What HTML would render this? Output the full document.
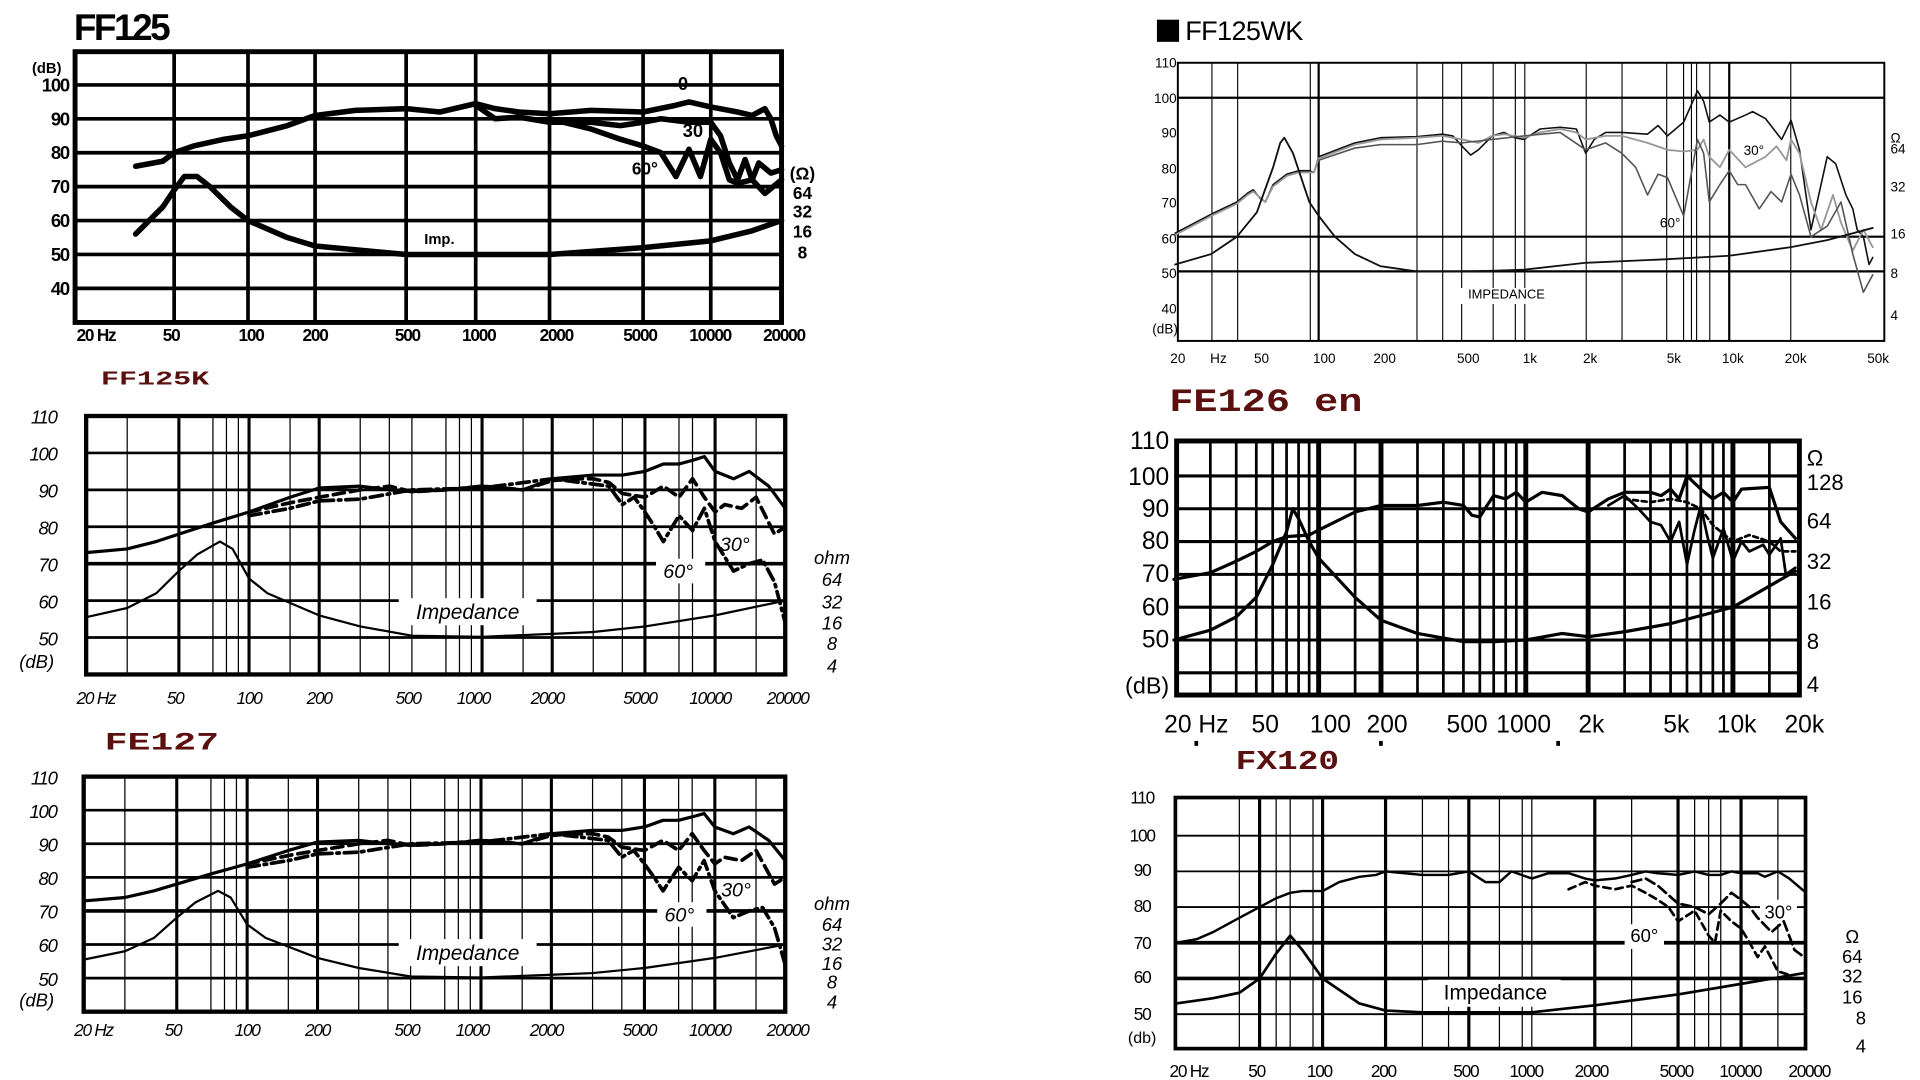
<!DOCTYPE html>
<html><head><meta charset="utf-8"><style>html,body{margin:0;padding:0;background:#fff;width:1920px;height:1080px;overflow:hidden}svg{display:block}</style></head>
<body>
<svg id="s" xmlns="http://www.w3.org/2000/svg" width="1920" height="1080" viewBox="0 0 1560 877.5" preserveAspectRatio="none"></svg>
<script>
let o='';
const lg=Math.log10;
function PL(a){return f=>{for(let i=0;i<a.length-1;i++){const[f0,x0]=a[i],[f1,x1]=a[i+1];if(f<=f1||i==a.length-2){const t=(lg(f)-lg(f0))/(lg(f1)-lg(f0));return x0+t*(x1-x0);}}}}
function lin(d0,y0,d1,y1){return d=>y0+(d-d0)*(y1-y0)/(d1-d0);}
function P(pts,fx,fy,st){o+=`<polyline points="${pts.map(p=>fx(p[0]).toFixed(1)+','+fy(p[1]).toFixed(1)).join(' ')}" fill="none" stroke-linejoin="round" stroke-linecap="round" ${st}/>`;}
function Ln(x1,y1,x2,y2,w,c){o+=`<line x1="${x1}" y1="${y1}" x2="${x2}" y2="${y2}" stroke="${c||'#000'}" stroke-width="${w}"/>`;}
function R(x,y,w,h,sw,fill){o+=`<rect x="${x}" y="${y}" width="${w}" height="${h}" fill="${fill||'none'}" stroke="${sw?'#000':'none'}" stroke-width="${sw||0}"/>`;}
function T(x,y,s,sz,anc,ex){o+=`<text x="${x}" y="${(y+sz*0.35).toFixed(1)}" font-size="${sz}" text-anchor="${anc||'middle'}" ${ex||''}>${s}</text>`;}
const SANS='font-family="Liberation Sans, sans-serif"';
const COUR='font-family="Liberation Mono, monospace" font-weight="bold" fill="#5b0f0f"';

/* ===== Chart A FF125 ===== */
{
const fx=PL([[20,61],[50,141.5],[100,201.5],[200,256],[500,330],[1000,386.5],[2000,446.5],[5000,522.5],[10000,577.5],[20000,635]]);
const fy=lin(100,69,40,234.3);
[50,100,200,500,1000,2000,5000,10000].forEach(f=>Ln(fx(f),42,fx(f),262,3));
[100,90,80,70,60,50,40].forEach(d=>Ln(61,fy(d),635,fy(d),3));
R(61,42,574,220,4);
const st='stroke="#000" stroke-width="4.5"';
P([[35,76],[45,77.5],[50,80],[60,82],[80,84],[100,85],[150,88],[200,91],[300,92.5],[500,93],[700,92],[1000,94.5],[1200,93],[1500,92],[2000,91.5],[3000,92.5],[5000,92],[7000,94],[8000,95],[10000,93.5],[13000,92],[15000,91],[17000,93],[18000,90],[19000,85],[20000,82]],fx,fy,st);
P([[1000,94],[1200,90],[1500,90.5],[2000,89],[3000,89],[4000,88],[5000,89],[6000,90],[8000,89],[10000,89],[11000,85],[12000,77],[13000,72],[14000,78],[15000,72],[16000,77],[18000,74],[20000,75]],fx,fy,st);
P([[2000,90],[3000,87],[4000,84],[5000,82],[6000,80],[7000,73],[8000,81],[9000,73],[10000,84],[11000,80],[12000,72],[13000,71],[15000,72],[17000,68],[20000,72]],fx,fy,st);
P([[35,56],[45,64],[50,69],[55,73],[62,73],[70,70],[85,64],[100,60],[150,55],[200,52.5],[500,50],[1000,50],[2000,50],[5000,52],[10000,54],[15000,57],[20000,60]],fx,fy,st);
const B='font-family="Liberation Sans Narrow, Liberation Sans, sans-serif" font-weight="bold"';
T(60,22,'FF125',30,'start',B+' letter-spacing="-2"');
T(38,55,'(dB)',12,'middle',B);
[100,90,80,70,60,50,40].forEach(d=>T(56,fy(d),d,15,'end',B+' letter-spacing="-1"'));
[['20 Hz',78],['50',139],['100',204],['200',256],['500',331],['1000',389],['2000',452],['5000',520],['10000',577],['20000',637]].forEach(a=>T(a[1],272,a[0],14,'middle',B+' letter-spacing="-1"'));
[['(Ω)',141],['64',157],['32',172],['16',188],['8',205]].forEach(a=>T(652,a[1],a[0],14,'middle',B));
T(555,68,'0',15,'middle',B);T(563,106,'30',15,'middle',B);T(524,137,'60°',14,'middle',B);T(357,194,'Imp.',12,'middle',B);
}

/* ===== Chart B & C ===== */
function BC(x0,x1,y0,y1,title,tx,ty,tl,tsz,lab){
const fx=f=>x0+lg(f/20)*((x1-x0)/3);
const fy=lin(110,y0,40,y1);
const thin=[30,70,80,90,150,300,400,500,700,800,900,1500,3000,4000,7000,8000,15000],thick=[50,100,200,1000,2000,5000,10000];
thin.forEach(f=>Ln(fx(f),y0,fx(f),y1,1));
thick.forEach(f=>Ln(fx(f),y0,fx(f),y1,2.5));
[100,90,80,70,60,50].forEach(d=>Ln(x0,fy(d),x1,fy(d),d==70?3:2.2));
R(x0,y0,x1-x0,y1-y0,3.5);
// impedance label bg
R(lab.ix-56,lab.iy-11,112,22,0,'#fff');
R(lab.x60-18,lab.y60-10,40,20,0,'#fff');
const s='stroke="#000" stroke-width="2.6"';
P([[20,73],[30,74],[40,76],[50,78],[70,81],[100,84],[150,88],[200,90.5],[300,91],[400,90],[500,89.5],[700,90],[1000,91],[1200,90.5],[1500,90],[2000,93],[3000,94],[4000,94],[5000,95],[6000,97],[7000,97],[8000,98],[9000,99],[10000,95],[12000,93],[14000,95],[17000,91],[20000,85]],fx,fy,s);
P([[100,84],[150,86.5],[200,88],[300,90],[400,91],[500,89.5],[700,90],[1000,91],[1500,90],[2000,92.5],[2500,93],[3000,93],[3500,92],[4000,89],[5000,88],[6000,91],[7000,88],[8000,93],[9000,88],[10000,84],[11000,86],[13000,85],[15000,88],[18000,78],[20000,80]],fx,fy,'stroke="#000" stroke-width="3" stroke-dasharray="9,5"');
P([[100,83],[150,85],[200,87],[300,87.5],[500,90],[1000,90.5],[2000,93],[3500,91],[4000,86],[4500,88],[5000,84],[5500,80],[6000,76],[7000,83],[8000,79],[9000,85],[10000,76],[12000,68],[14000,70],[16000,71],[18000,65],[20000,54]],fx,fy,'stroke="#000" stroke-width="3" stroke-dasharray="10,4,2,4"');
P([[20,55.5],[30,58],[40,62],[50,68],[60,72.5],[75,76],[85,74],[100,66],[120,62],[200,56],[300,53],[500,50.5],[1000,50.2],[2000,51],[3000,51.5],[5000,53],[10000,56],[20000,60]],fx,fy,'stroke="#000" stroke-width="1.8"');
const I='font-family="Liberation Sans, sans-serif" font-style="italic"';
T(tx,ty,title,tsz,'start',COUR+` textLength="${tl}" lengthAdjust="spacingAndGlyphs"`);
[110,100,90,80,70,60,50].forEach(d=>T(46,fy(d)+1,d,15,'end',I+' letter-spacing="-1"'));
T(44,fy(43.5),'(dB)',15,'end',I);
[['20 Hz',x0+8],['50',fx(50)-3],['100',fx(100)],['200',fx(200)],['500',fx(500)-3],['1000',fx(1000)-7],['2000',fx(2000)-4],['5000',fx(5000)-4],['10000',fx(10000)-4],['20000',x1+2]].forEach(a=>T(a[1],lab.by,a[0],14,'middle',I+' letter-spacing="-1"'));
lab.r.forEach(a=>T(676,a[1],a[0],15,'middle',I));
T(lab.ix,lab.iy,'Impedance',17,'middle',I);
T(lab.x30,lab.y30,'30°',16,'middle',I);T(lab.x60,lab.y60,'60°',16,'middle',I);
}
BC(70,638,338,548,'FF125K',82,307,88,16,{by:567,ix:380,iy:497,x30:597,y30:442,x60:551,y60:464,r:[['ohm',453],['64',471],['32',489],['16',506],['8',523],['4',541]]});
BC(68,638,631,822,'FE127',85,602,93,20,{by:837,ix:380,iy:774,x30:598,y30:723,x60:552,y60:743,r:[['ohm',734],['64',751],['32',767],['16',783],['8',798],['4',814]]});

/* ===== Chart D FF125WK ===== */
{
const fx=f=>1071.4+lg(f/100)*166.8, fy=lin(100,79.4,60,192.3);
[984.7,1005.6,1064.6,1151.3,1172.2,1187.6,1213.2,1231.2,1238.9,1288.8,1317.9,1354.2,1367.9,1374.3,1378.5,1389.2,1455].forEach(x=>Ln(x,51,x,277,0.9));
[1071.4,1405].forEach(x=>Ln(x,51,x,277,1.8));
[100,60,50].forEach(d=>Ln(957,fy(d),1531,fy(d),1.8));
R(957,51,574,226,1.6);
o+=`<rect x="1187" y="234" width="73" height="13" fill="#fff"/>`;
P([[20,61],[25,64],[30,66.5],[40,70],[45,72.5],[48,73.5],[52,71],[55,70],[60,75],[70,78],[80,79],[90,79],[95,78.5],[100,83],[150,87],[200,88.5],[300,88.8],[400,89.5],[450,89],[500,86],[550,83.5],[600,85],[700,89],[800,90],[900,88.5],[1000,88],[1200,91],[1500,91.5],[1800,91],[2000,84],[2200,88],[2500,90],[3000,90],[4000,89.5],[4500,92],[5000,89],[6000,93],[7000,102],[7500,99],[8000,93],[9000,95],[10000,93],[12000,95],[13000,96],[15000,94],[18000,88],[20000,93.5],[22000,85],[25000,62],[28000,75],[30000,83],[33000,81],[37000,72],[40000,68],[42000,62],[45000,60],[48000,52],[50000,54]],fx,fy,'stroke="#111" stroke-width="1.3"');
P([[20,60.5],[25,63.5],[30,66],[40,69.5],[45,72],[48,73],[55,70],[60,74.5],[70,77.5],[80,78.5],[95,78.5],[100,82.5],[150,86.5],[200,88],[300,88.5],[400,89],[500,88],[600,87],[700,89],[800,89.5],[1000,88.5],[1200,90],[1500,91],[1800,90],[2000,88],[2500,89],[3000,89],[4000,87],[5000,85],[6000,84.5],[7000,85],[7500,88],[8000,83],[9000,80],[10000,85],[12000,80],[15000,83],[17000,86],[19000,82],[20000,88],[22000,84],[25000,70],[28000,62],[32000,72],[35000,64],[40000,56],[45000,62],[50000,57]],fx,fy,'stroke="#999" stroke-width="1.5"');
P([[100,82],[150,85.5],[200,86.5],[300,86.5],[400,87.5],[500,87],[700,88],[1000,89],[1500,90],[2000,85],[2500,87],[3000,84],[3500,80],[4000,72],[4500,78],[5000,77],[6000,66],[7000,88],[7500,84],[8000,70],[9000,75],[10000,79],[11000,75],[12000,75],[14000,68],[16000,73],[18000,70],[20000,78],[22000,72],[25000,60],[30000,63],[35000,70],[40000,55],[45000,44],[50000,49]],fx,fy,'stroke="#555" stroke-width="1.3"');
P([[20,52],[30,55],[40,60],[50,67],[60,80],[65,87],[68,88.5],[75,84],[90,70],[100,66],[120,60],[150,55],[200,51.5],[300,50],[500,50],[700,50.2],[1000,50.5],[2000,52.5],[5000,53.5],[10000,54.5],[20000,57],[30000,59],[50000,62.5]],fx,fy,'stroke="#111" stroke-width="1.5"');
o+=`<rect x="940" y="16" width="18" height="18" fill="#000"/>`;
T(963,25,'FF125WK',22,'start',SANS+' letter-spacing="-0.5"');
[[110,51],[100,80],[90,108],[80,137],[70,165],[60,194],[50,222],[40,251]].forEach(a=>T(956,a[1],a[0],11,'end',SANS));
T(957,267,'(dB)',11,'end',SANS);
[['20',957],['Hz',990],['50',1025],['100',1076],['200',1125],['500',1193],['1k',1243],['2k',1292],['5k',1360],['10k',1408],['20k',1459],['50k',1526]].forEach(a=>T(a[1],291,a[0],11,'middle',SANS));
[['Ω',112],['64',121],['32',152],['16',190],['8',222],['4',256]].forEach(a=>T(1536,a[1],a[0],11,'start',SANS));
T(1224,239,'IMPEDANCE',10.5,'middle',SANS);
T(1425,122,'30°',11,'middle',SANS);T(1357,181,'60°',11,'middle',SANS);
}

/* ===== Chart E FE126 en ===== */
{
const fx=f=>1071.4+lg(f/100)*168.3, fy=lin(100,386.7,50,520);
[30,40,50,60,70,80,90,150,300,400,500,600,700,800,900,3000,4000,5000,6000,7000,8000,9000,15000].forEach(f=>Ln(fx(f),358,fx(f),565,2.2));
[100,200,1000,2000,10000].forEach(f=>Ln(fx(f),358,fx(f),565,4));
[100,90,80,70,60,50,40].forEach(d=>Ln(956,fy(d),1462,fy(d),2.5));
R(956,358.3,506,206.4,4);
P([[20,68.5],[30,70.5],[40,74],[50,77],[60,80],[70,81.5],[90,82],[100,83.5],[150,89],[200,91],[300,91],[400,92],[500,91],[550,88],[600,87.5],[650,91],[700,94],[800,93],[900,95],[1000,92],[1200,95],[1500,94],[1800,90],[2000,89],[2500,93],[3000,95],[4000,95],[4500,94],[5000,96],[5500,93],[6000,100],[7000,96],[8000,93],[9000,95],[10000,92],[11000,96],[15000,96.5],[17000,86],[20000,81]],fx,fy,'stroke="#000" stroke-width="2.6"');
P([[2500,91],[3000,94],[3500,90],[4000,86],[4500,85],[5000,80],[5500,86],[6000,73],[6500,83],[7000,91],[7500,82],[8000,75],[9000,84],[10000,74],[11000,80],[12000,77],[14000,79],[15000,76],[17000,81],[18000,70],[20000,72]],fx,fy,'stroke="#000" stroke-width="2.2"');
P([[3000,93],[4000,92],[5000,93],[6000,92],[7000,90],[8000,85],[10000,80],[12000,82],[15000,80],[17000,77],[20000,77]],fx,fy,'stroke="#000" stroke-width="2.2" stroke-dasharray="4,3"');
P([[20,50],[30,53],[40,57],[50,63],[60,73],[70,83],[75,90],[80,87],[90,80],[100,75],[150,63],[200,56],[300,52],[500,49.5],[700,49.5],[1000,50],[1500,52],[2000,51],[3000,52.5],[5000,55],[10000,60],[20000,71]],fx,fy,'stroke="#000" stroke-width="2.6"');
T(950,325,'FE126 en',26,'start',COUR+' textLength="157" lengthAdjust="spacingAndGlyphs"');
[[110,358],[100,387],[90,413],[80,439],[70,466],[60,493],[50,519]].forEach(a=>T(950,a[1],a[0],20,'end',SANS));
T(950,557,'(dB)',19,'end',SANS);
[['Ω',372],['128',392],['64',423],['32',456],['16',489],['8',521],['4',556]].forEach(a=>T(1468,a[1],a[0],18,'start',SANS));
[['20 Hz',972],['50',1028],['100',1081],['200',1127],['500',1192],['1000',1238],['2k',1293],['5k',1362],['10k',1411],['20k',1466]].forEach(a=>T(a[1],588,a[0],20,'middle',SANS));
[972,1122,1266].forEach(x=>R(x-1.5,602,3,4,0,'#000'));
}

/* ===== Chart F FX120 ===== */
{
const fx=f=>1074.6+lg(f/100)*170, fy=lin(100,679,50,824);
[40,60,70,90,300,400,700,900,1000,3000,6000,7000,8000,15000].forEach(f=>Ln(fx(f),648,fx(f),852,1));
[50,100,200,500,2000,5000,10000].forEach(f=>Ln(fx(f),648,fx(f),852,2.6));
[100,90,80,50].forEach(d=>Ln(955,fy(d),1467,fy(d),1.5));
[70,60].forEach(d=>Ln(955,fy(d),1467,fy(d),3));
R(955,648,512,204,3);
R(1160,796,108,22,0,'#fff');
R(1320,751,32,20,0,'#fff');R(1430,731,30,20,0,'#fff');
P([[20,70],[25,71],[30,73],[40,77],[50,80],[60,82.5],[70,84],[80,84.5],[100,84.5],[120,87],[150,88.5],[180,89],[200,90],[300,89],[400,89],[500,90],[600,87],[700,87],[800,90],[1000,88],[1200,89.5],[1500,89.5],[1800,88],[2000,87.5],[2500,88],[3000,89],[3500,90],[4000,89.5],[5000,89],[6000,90],[7000,89],[8000,89],[9000,90],[10000,89.5],[12000,89.5],[13000,88.5],[15000,90],[17000,88],[20000,84.5]],fx,fy,'stroke="#000" stroke-width="2"');
P([[1500,85],[1800,87],[2000,86],[2500,85],[3000,86],[3500,84],[4000,82],[4500,80],[5000,76],[6000,79],[7000,72],[7500,70],[8000,79],[9000,76],[10000,74],[11000,70],[12000,66],[13000,69],[15000,62],[17000,61]],fx,fy,'stroke="#000" stroke-width="2.2" stroke-dasharray="6,4"');
P([[3000,87],[3500,88],[4000,86],[5000,81],[6000,80],[7000,78],[8000,81],[9000,84],[10000,82],[11000,80],[12000,77],[14000,73],[16000,76],[18000,68],[20000,66]],fx,fy,'stroke="#000" stroke-width="2.2" stroke-dasharray="8,4"');
P([[20,53],[30,54.5],[40,56],[50,60],[60,67],[70,72],[80,68],[100,60],[150,53],[200,51],[300,50.5],[500,50.5],[1000,50.5],[2000,52.5],[5000,55.5],[10000,58.5],[20000,61.5]],fx,fy,'stroke="#000" stroke-width="2.2"');
T(1004,617,'FX120',22,'start',COUR+' textLength="84" lengthAdjust="spacingAndGlyphs"');
[[110,648],[100,679],[90,707],[80,736],[70,766],[60,794],[50,824]].forEach(a=>T(928,a[1],a[0],14,'middle',SANS+' letter-spacing="-1"'));
T(928,843,'(db)',13,'middle',SANS);
[['20 Hz',966],['50',1021],['100',1072],['200',1124],['500',1191],['1000',1240],['2000',1293],['5000',1362],['10000',1414],['20000',1470]].forEach(a=>T(a[1],870,a[0],14,'middle',SANS+' letter-spacing="-1"'));
[['Ω',1505,761],['64',1505,777],['32',1505,793],['16',1505,810],['8',1512,827],['4',1512,850]].forEach(a=>T(a[1],a[2],a[0],15,'middle',SANS));
T(1215,806,'Impedance',17,'middle',SANS);
T(1336,760,'60°',15,'middle',SANS);T(1445,741,'30°',15,'middle',SANS);
}
document.getElementById('s').innerHTML=o;
</script>
</body></html>
